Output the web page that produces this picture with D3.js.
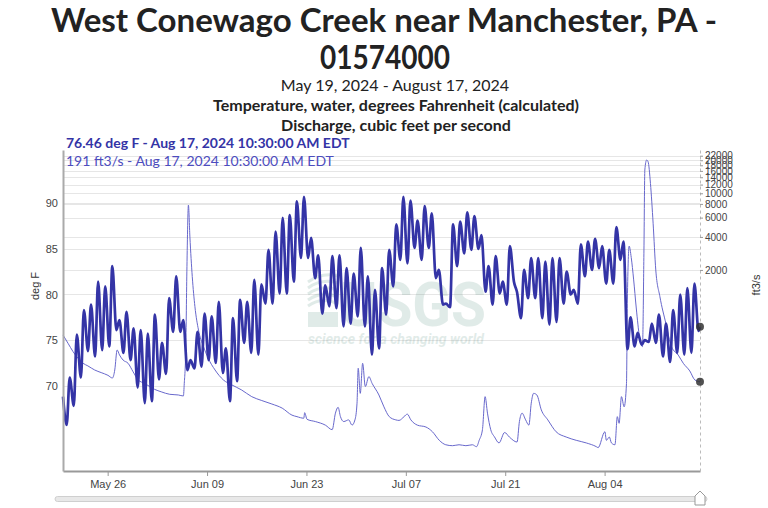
<!DOCTYPE html>
<html>
<head>
<meta charset="utf-8">
<script src="https://cdn.jsdelivr.net/npm/d3@7"></script>
<style>
  body { margin: 0; background: #fff; }
  svg { display: block; }
</style>
</head>
<body>
<div id="graph"></div>
<script>
'use strict';

// ---- data read off the USGS hydrograph ----
// water temperature, one low (early morning) and one high (afternoon) per day, from May 20
var tempStart = 68.8;   // May 19, 17:00
var tempLow = [65.7, 67.8, 70.9, 73.8, 73.2, 73.9, 74.3, 76.1, 73.6, 72.8,
  69.8, 68.1, 68.3, 70.7, 71.3, 75.9, 75.9, 71.7, 71.9, 72.1,
  72.8, 72.5, 71.4, 68.3, 70.5, 74.7, 73.6, 73.4, 79.0, 79.0,
  80.1, 80.1, 81.4, 84.0, 84.0, 81.8, 77.9, 78.7, 78.5, 76.5,
  76.8, 77.6, 76.5, 73.4, 74.1, 77.8, 80.9, 83.8, 83.4, 85.1,
  83.8, 85.1, 81.8, 78.9, 78.6, 83.1, 84.5, 84.9, 85.0, 80.3,
  78.9, 80.1, 78.9, 81.4, 77.4, 79.6, 79.6, 77.4, 76.7, 77.0,
  79.0, 80.0, 79.0, 82.0, 82.7, 82.9, 81.2, 81.2, 83.8, 74.0,
  74.3, 74.5, 74.8, 74.7, 73.2, 72.6, 73.6, 73.4, 73.6, 76.0];
var tempHigh = [70.9, 75.6, 78.3, 78.9, 81.4, 80.9, 83.1, 77.2, 78.1, 76.3,
  76.1, 75.7, 77.8, 74.7, 79.6, 82.0, 77.2, 72.8, 75.9, 77.9,
  77.6, 79.2, 74.1, 77.4, 79.4, 79.2, 81.6, 81.1, 84.9, 86.9,
  88.4, 88.7, 90.2, 90.7, 86.2, 84.3, 81.0, 84.2, 84.3, 82.9,
  82.3, 85.1, 82.0, 80.5, 82.9, 84.9, 87.7, 90.7, 90.3, 88.1,
  89.7, 88.9, 82.7, 79.0, 87.7, 88.0, 89.0, 88.6, 86.5, 83.1,
  84.2, 81.4, 85.3, 80.3, 82.7, 84.0, 84.0, 83.6, 84.0, 84.0,
  82.5, 80.5, 85.5, 85.8, 86.1, 85.3, 84.9, 87.4, 85.8, 77.5,
  75.8, 75.0, 76.8, 77.8, 76.8, 78.3, 80.0, 80.7, 81.2];
var tempLast = 76.46;

// discharge, ft3/s
var flowTimes = ['05-19 17:00', '05-20 10:00', '05-21 03:00', '05-21 20:00', '05-22 13:00',
  '05-23 05:00', '05-24 04:00', '05-25 02:00', '05-26 01:00', '05-26 16:00', '05-27 00:00',
  '05-27 08:00', '05-27 16:00', '05-28 04:00', '05-28 21:00', '05-29 14:00', '05-30 07:00',
  '05-31 05:00', '06-01 15:00', '06-02 13:00', '06-03 18:00', '06-04 23:00', '06-05 16:00',
  '06-05 19:00', '06-06 00:00', '06-06 04:00', '06-06 09:00', '06-06 14:00', '06-06 22:00',
  '06-07 07:00', '06-07 19:00', '06-08 12:00', '06-09 04:00', '06-10 03:00', '06-11 07:00',
  '06-12 12:00', '06-13 21:00', '06-15 07:00', '06-16 17:00', '06-18 03:00', '06-19 14:00',
  '06-20 23:00', '06-21 16:00', '06-22 15:00', '06-22 18:00', '06-23 02:00', '06-24 06:00',
  '06-25 16:00', '06-26 15:00', '06-27 02:00', '06-27 11:00', '06-27 19:00', '06-28 06:00',
  '06-28 23:00', '06-29 10:00', '06-29 20:00', '06-30 03:00', '06-30 07:00', '06-30 14:00',
  '06-30 22:00', '07-01 07:00', '07-01 19:00', '07-02 06:00', '07-03 05:00', '07-03 22:00',
  '07-04 16:00', '07-05 14:00', '07-06 01:00', '07-06 18:00', '07-07 05:00', '07-07 17:00',
  '07-08 15:00', '07-09 20:00', '07-10 18:00', '07-11 17:00', '07-12 15:00', '07-13 14:00',
  '07-14 12:00', '07-15 11:00', '07-16 09:00', '07-16 23:00', '07-17 08:00', '07-17 19:00',
  '07-18 04:00', '07-18 12:00', '07-18 23:00', '07-19 12:00', '07-20 03:00', '07-20 22:00',
  '07-21 14:00', '07-22 16:00', '07-23 00:00', '07-23 09:00', '07-23 21:00', '07-24 08:00',
  '07-24 16:00', '07-25 00:00', '07-25 11:00', '07-26 02:00', '07-27 00:00', '07-28 04:00',
  '07-29 14:00', '07-31 00:00', '08-01 10:00', '08-02 20:00', '08-03 02:00', '08-04 01:00',
  '08-04 06:00', '08-04 16:00', '08-04 23:00', '08-05 11:00', '08-05 19:00', '08-06 01:00',
  '08-06 09:00', '08-06 18:00', '08-07 02:00', '08-07 05:00', '08-07 11:00', '08-07 18:00',
  '08-08 02:00', '08-08 11:00', '08-08 22:00', '08-09 08:00', '08-09 13:00', '08-09 16:00',
  '08-09 22:00', '08-10 03:00', '08-10 11:00', '08-10 20:00', '08-11 05:00', '08-11 19:00',
  '08-12 15:00', '08-13 10:00', '08-14 09:00', '08-15 02:00', '08-16 00:00', '08-16 17:00',
  '08-17 10:30'];
var flowValues = [511, 429, 360, 313, 282,
  267, 245, 232, 219, 207, 245,
  373, 336, 302, 282, 236, 199,
  185, 163, 155, 147, 145, 142,
  185, 373, 2140, 7800, 4000, 1740,
  925, 567, 400, 313, 245, 199,
  179, 161, 140, 129, 120, 110,
  95, 92, 89, 100, 87, 83,
  77, 70, 99, 112, 92, 83,
  86, 77, 86, 122, 254, 150,
  282, 173, 213, 185, 145, 113,
  92, 86, 85, 92, 97, 86,
  77, 74, 67, 56, 51, 50,
  51, 50, 51, 49, 56, 70,
  140, 99, 70, 60, 53, 66,
  60, 54, 83, 99, 86, 77,
  122, 150, 145, 106, 86, 67,
  60, 56, 53, 49, 48, 67,
  56, 60, 53, 51, 92, 80,
  140, 113, 185, 1065, 3300, 2600,
  1650, 900, 490, 400, 3040, 16300,
  20100, 19400, 12300, 5330, 2000, 1140,
  653, 400, 335, 282, 240, 199,
  191];

var tempTicks = [70, 75, 80, 85, 90];
var flowTicks = [2000, 4000, 6000, 8000, 10000, 12000, 14000, 16000, 18000, 20000, 22000];
var dateTicks = ['05-26', '06-09', '06-23', '07-07', '07-21', '08-04'];

// ---- layout ----
var canvasWidth = 768;
var canvasHeight = 508;
var plot = { left: 63, right: 700, top: 150, bottom: 471 };
var tempColor = '#3434a6';
var flowColor = '#6868cc';
var sans = "Lato, 'Liberation Sans', sans-serif";
var axisFont = "'Liberation Sans', Arial, sans-serif";

var parseTime = d3.timeParse('%Y-%m-%d %H:%M');
var startTime = parseTime('2024-05-19 17:00');
var endTime = parseTime('2024-08-17 10:30');
var day0 = parseTime('2024-05-20 00:00');

// temperature points: low at 05:30, high at 15:40
var tempData = [{ t: startTime, v: tempStart }];
tempLow.forEach(function(v, i) {
  tempData.push({ t: d3.timeMinute.offset(day0, i * 1440 + 330), v: v });
  if (i < tempHigh.length) {
    tempData.push({ t: d3.timeMinute.offset(day0, i * 1440 + 940), v: tempHigh[i] });
  }
});
tempData.push({ t: endTime, v: tempLast });

var flowData = flowTimes.map(function(s, i) {
  return { t: parseTime('2024-' + s), v: flowValues[i] };
});

var svg = d3.select('#graph')
  .append('svg')
  .attr('width', canvasWidth)
  .attr('height', canvasHeight);

var xScale = d3.scaleTime().domain([startTime, endTime]).range([plot.left, plot.right]);
var yTemp = d3.scaleLinear().domain([60.65, 95.84]).range([plot.bottom, plot.top]);
var yFlow = d3.scaleLog().domain([29.4, 24800]).range([plot.bottom, plot.top]);

// titles
svg.append('text')
  .attr('x', 384).attr('y', 32)
  .attr('text-anchor', 'middle')
  .attr('font-family', sans).attr('font-weight', 'bold').attr('font-size', '33px')
  .attr('fill', '#222')
  .text('West Conewago Creek near Manchester, PA -');
svg.append('text')
  .attr('x', 385).attr('y', 69)
  .attr('text-anchor', 'middle')
  .attr('font-family', sans).attr('font-weight', 'bold').attr('font-size', '33px')
  .attr('textLength', 130).attr('lengthAdjust', 'spacingAndGlyphs')
  .attr('fill', '#222')
  .text('01574000');
svg.append('text')
  .attr('x', 395).attr('y', 91)
  .attr('text-anchor', 'middle')
  .attr('font-family', sans).attr('font-size', '16px').attr('fill', '#222')
  .text('May 19, 2024 - August 17, 2024');
svg.append('text')
  .attr('x', 396).attr('y', 111)
  .attr('text-anchor', 'middle')
  .attr('font-family', sans).attr('font-weight', 'bold').attr('font-size', '16px').attr('fill', '#222')
  .text('Temperature, water, degrees Fahrenheit (calculated)');
svg.append('text')
  .attr('x', 396).attr('y', 131)
  .attr('text-anchor', 'middle')
  .attr('font-family', sans).attr('font-weight', 'bold').attr('font-size', '16px').attr('fill', '#222')
  .text('Discharge, cubic feet per second');

// gridlines
var grid = svg.append('g').attr('class', 'grid');
grid.selectAll('line.tg')
  .data(tempTicks)
  .enter().append('line')
  .attr('class', 'tg')
  .attr('x1', plot.left).attr('x2', plot.right)
  .attr('y1', function(d) { return Math.round(yTemp(d)) + 0.5; })
  .attr('y2', function(d) { return Math.round(yTemp(d)) + 0.5; })
  .attr('stroke', '#e6e6e6');
grid.selectAll('line.fg')
  .data(flowTicks)
  .enter().append('line')
  .attr('class', 'fg')
  .attr('x1', plot.left).attr('x2', plot.right)
  .attr('y1', function(d) { return Math.round(yFlow(d)) + 0.5; })
  .attr('y2', function(d) { return Math.round(yFlow(d)) + 0.5; })
  .attr('stroke', '#e6e6e6');

// USGS watermark
var mark = svg.append('g').attr('opacity', 0.13).attr('fill', '#1b6b55');
mark.append('text')
  .attr('x', 340).attr('y', 326)
  .attr('font-family', 'Roboto, sans-serif').attr('font-weight', 'bold').attr('font-size', '62px')
  .attr('textLength', 146).attr('lengthAdjust', 'spacingAndGlyphs')
  .text('USGS');
mark.append('text')
  .attr('x', 308).attr('y', 344)
  .attr('font-family', 'Roboto, sans-serif').attr('font-weight', 'bold').attr('font-style', 'italic')
  .attr('font-size', '14px')
  .attr('textLength', 176).attr('lengthAdjust', 'spacingAndGlyphs')
  .text('science for a changing world');
[0, 1, 2, 3, 4].forEach(function(i) {
  mark.append('path')
    .attr('d', 'M308,' + (306 - i * 6) + ' Q322,' + (296 - i * 6) + ' 338,' + (304 - i * 7))
    .attr('fill', 'none').attr('stroke', '#1b6b55').attr('stroke-width', 3);
});
mark.append('path').attr('d', 'M308,312 L338,312 L338,327 L308,327 Z');

// data lines
svg.append('path')
  .datum(flowData)
  .attr('fill', 'none')
  .attr('stroke', flowColor)
  .attr('stroke-width', 1)
  .attr('d', d3.line()
    .x(function(d) { return xScale(d.t); })
    .y(function(d) { return yFlow(d.v); })
    .curve(d3.curveMonotoneX));

svg.append('path')
  .datum(tempData)
  .attr('fill', 'none')
  .attr('stroke', tempColor)
  .attr('stroke-width', 2.7)
  .attr('stroke-linejoin', 'round')
  .attr('d', d3.line()
    .x(function(d) { return xScale(d.t); })
    .y(function(d) { return yTemp(d.v); })
    .curve(d3.curveMonotoneX));

// axes
var xAxis = svg.append('g')
  .attr('transform', 'translate(0,' + plot.bottom + ')')
  .call(d3.axisBottom(xScale)
    .tickValues(dateTicks.map(function(s) { return parseTime('2024-' + s + ' 00:00'); }))
    .tickFormat(d3.timeFormat('%b %d'))
    .tickSize(5).tickSizeOuter(0));
xAxis.select('.domain').attr('stroke', '#999').attr('stroke-width', 2);
xAxis.selectAll('.tick line').attr('stroke', '#999');
xAxis.selectAll('.tick text')
  .attr('font-family', "'Liberation Sans Narrow', " + axisFont)
  .attr('font-size', '11px').attr('fill', '#444').attr('dy', '0.85em');

var yAxisL = svg.append('g')
  .attr('transform', 'translate(' + plot.left + ',0)')
  .call(d3.axisLeft(yTemp).tickValues(tempTicks).tickSize(0).tickPadding(5).tickSizeOuter(0));
yAxisL.select('.domain').attr('stroke', '#aaa').attr('stroke-width', 2);
yAxisL.selectAll('.tick text')
  .attr('font-family', axisFont).attr('font-size', '11px').attr('fill', '#444');

var yAxisR = svg.append('g')
  .attr('transform', 'translate(' + plot.right + ',0)')
  .call(d3.axisRight(yFlow).tickValues(flowTicks).tickFormat(d3.format('d'))
    .tickSize(3).tickPadding(2).tickSizeOuter(0));
yAxisR.select('.domain').attr('stroke', '#bbb').attr('stroke-dasharray', '3,3');
yAxisR.selectAll('.tick line').attr('stroke', '#999');
yAxisR.selectAll('.tick text')
  .attr('font-family', axisFont).attr('font-size', '10px').attr('fill', '#444');

svg.append('text')
  .attr('transform', 'translate(39,286) rotate(-90)')
  .attr('text-anchor', 'middle')
  .attr('font-family', axisFont).attr('font-size', '11px').attr('fill', '#333')
  .text('deg F');
svg.append('text')
  .attr('transform', 'translate(760,285) rotate(-90)')
  .attr('text-anchor', 'middle')
  .attr('font-family', axisFont).attr('font-size', '11px').attr('fill', '#333')
  .text('ft3/s');

// last-value markers
svg.append('circle')
  .attr('cx', xScale(endTime)).attr('cy', yTemp(tempLast)).attr('r', 4)
  .attr('fill', '#333').attr('opacity', 0.85);
svg.append('circle')
  .attr('cx', xScale(endTime)).attr('cy', yFlow(flowValues[flowValues.length - 1])).attr('r', 4)
  .attr('fill', '#333').attr('opacity', 0.85);

// legend (current values)
var stamp = d3.timeFormat('%b %d, %Y %I:%M:%S %p')(endTime) + ' EDT';
svg.append('text')
  .attr('x', 66).attr('y', 148)
  .attr('font-family', sans).attr('font-weight', 'bold').attr('font-size', '14px')
  .attr('fill', tempColor)
  .text(tempLast + ' deg F - ' + stamp);
svg.append('text')
  .attr('x', 66).attr('y', 166)
  .attr('font-family', sans).attr('font-size', '14px')
  .attr('fill', '#4c4cbe')
  .text(flowValues[flowValues.length - 1] + ' ft3/s - ' + stamp);

// time slider
svg.append('rect')
  .attr('x', 55).attr('y', 496.5).attr('width', 652).attr('height', 5).attr('rx', 2.5)
  .attr('fill', '#e8e8e8').attr('stroke', '#cfcfcf');
var sx = xScale(endTime);
svg.append('path')
  .attr('d', 'M' + (sx - 5) + ',505 L' + (sx - 5) + ',496 L' + sx + ',491 L' + (sx + 5) + ',496 L' + (sx + 5) + ',505 Z')
  .attr('fill', '#fff').attr('stroke', '#999');
</script>
</body>
</html>
